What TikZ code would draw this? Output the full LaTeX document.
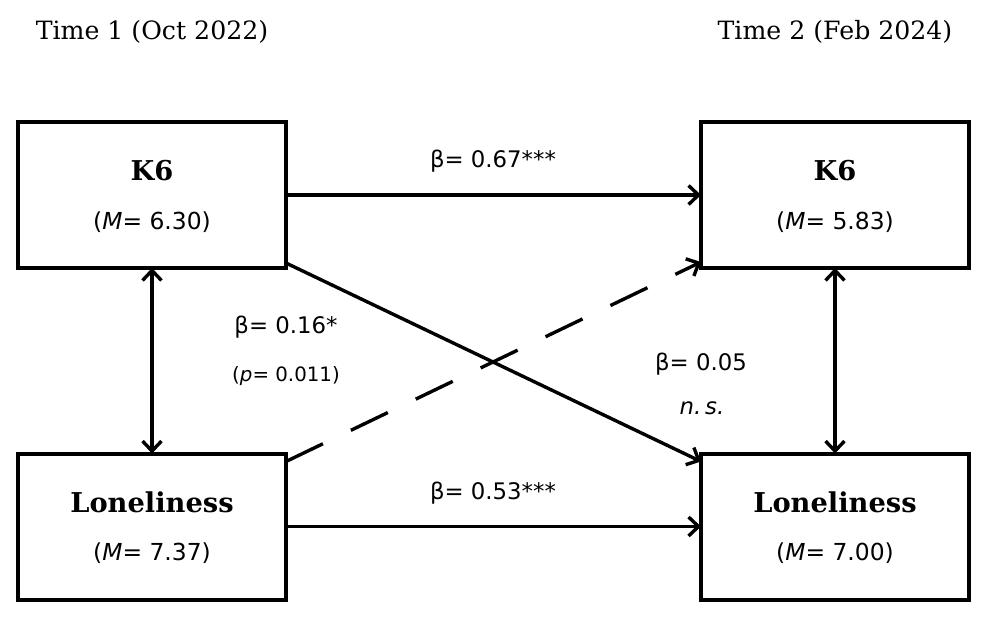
\documentclass[tikz,border=0pt]{standalone}
\usepackage{fontspec}
\setmainfont{DejaVu Serif}
\newfontfamily\dvsans{DejaVu Sans}
\usetikzlibrary{arrows.meta,calc}
\begin{document}
\begin{tikzpicture}[x=1pt,y=-1pt,
  box/.style={draw,line width=4pt,minimum width=268pt,minimum height=146pt,outer sep=0pt,inner sep=0pt},
  tip/.style={Straight Barb[length=10pt,width=19pt]},
  conn/.style={line width=3.4pt,-{Straight Barb[length=10pt,width=19pt]}},
  dconn/.style={line width=3.4pt,{Straight Barb[length=10pt,width=19pt]}-{Straight Barb[length=10pt,width=19pt]}},
  title/.style={font=\fontsize{25.2}{29}\selectfont},
  vname/.style={font=\fontsize{27.3}{31}\selectfont\bfseries},
  mean/.style={font=\dvsans\fontsize{23.4}{27}\selectfont},
  coef/.style={font=\dvsans\fontsize{22.8}{26}\selectfont},
  small/.style={font=\dvsans\fontsize{19.8}{23}\selectfont},
  txt/.style={inner sep=0pt,anchor=center}]
\useasboundingbox (0,0) rectangle (986,619);
% boxes
\node[box] (k1) at (152,195) {};
\node[box] (k2) at (835,195) {};
\node[box] (l1) at (152,526.5) {};
\node[box] (l2) at (835,526.5) {};
% titles
\node[txt,title] (t1) at (152,32) {Time 1 (Oct 2022)};
\node[txt,title] (t2) at (835,32) {Time 2 (Feb 2024)};
% box texts
\node[txt,vname] (k1n) at (152,171) {K6};
\node[txt,mean] (k1m) at (152,222) {(\textit{M}= 6.30)};
\node[txt,vname] (k2n) at (835,171) {K6};
\node[txt,mean] (k2m) at (835,222) {(\textit{M}= 5.83)};
\node[txt,vname] (l1n) at (152,502) {Loneliness};
\node[txt,mean] (l1m) at (152,553) {(\textit{M}= 7.37)};
\node[txt,vname] (l2n) at (835,502) {Loneliness};
\node[txt,mean] (l2m) at (835,553) {(\textit{M}= 7.00)};
% coefficient labels
\node[txt,coef] (c1) at (493,161) {β= 0.67***};
\node[txt,coef] (c2) at (493,493) {β= 0.53***};
\node[txt,coef] (c3) at (286,327) {β= 0.16*};
\node[txt,small] (c3p) at (286,376) {(\textit{p}= 0.011)};
\node[txt,coef] (c4) at (701,364) {β= 0.05};
\node[txt,coef] (c4n) at (702,408) {\textit{n.\,s.}};
% connectors
\coordinate (d1s) at ([yshift=5pt]k1.south east);
\coordinate (d1e) at ([yshift=-8pt]l2.north west);
\coordinate (d2s) at ([yshift=-8pt]l1.north east);
\coordinate (d2e) at ([yshift=6pt]k2.south west);
\draw[conn] (k1.east) -- (k2.west);
\draw[conn] (l1.east) -- (l2.west);
\draw[conn] (d1s) -- (d1e);
\draw[conn,dash pattern=on 41pt off 31pt] (d2s) -- (d2e);
\draw[dconn] (k1.south) -- (l1.north);
\draw[dconn] (k2.south) -- (l2.north);
\end{tikzpicture}
\end{document}
